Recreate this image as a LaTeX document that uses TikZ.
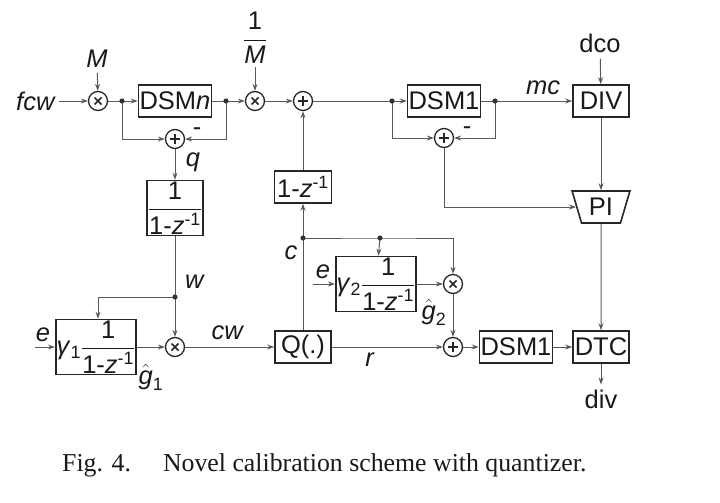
\documentclass[tikz,border=0pt]{standalone}
\usepackage{amsmath}
\usepackage{fontspec}
\setmainfont{Liberation Sans}
\newfontfamily\capfont{Liberation Serif}
\usepackage{tikz}
\usetikzlibrary{shapes.geometric, arrows.meta, positioning, calc}
\tikzset{
  block/.style  = {rectangle, draw=black!85, line width=1.6pt, inner sep=1pt,
                   text centered, minimum height=32pt},
  piblock/.style = {trapezium, draw=black!85, line width=1.6pt, inner sep=1pt,
                   shape border rotate=180, trapezium stretches=true,
                   trapezium angle=72, minimum width=58pt, minimum height=32pt},
  mixer/.style  = {circle, draw=black!85, line width=1.3pt, minimum size=19pt, inner sep=0pt,
                   path picture={\draw[line width=1.5pt]
                     ([shift={(-3.5pt,-3.5pt)}]path picture bounding box.center) --
                     ([shift={(3.5pt,3.5pt)}]path picture bounding box.center)
                     ([shift={(-3.5pt,3.5pt)}]path picture bounding box.center) --
                     ([shift={(3.5pt,-3.5pt)}]path picture bounding box.center);}},
  adder/.style  = {circle, draw=black!85, line width=1.3pt, minimum size=19pt, inner sep=0pt,
                   path picture={\draw[line width=1.5pt]
                     ([xshift=-5pt]path picture bounding box.center) --
                     ([xshift=5pt]path picture bounding box.center)
                     ([yshift=-5pt]path picture bounding box.center) --
                     ([yshift=5pt]path picture bounding box.center);}},
  sig/.style    = {line width=1pt, draw=black!65},
  arrow/.style  = {sig, -{Stealth[length=7pt,width=5pt]}},
  lbl/.style    = {inner sep=3pt},
}

\begin{document}
\begin{tikzpicture}[x=1pt, y=-1pt, every node/.style={font=\fontsize{25.5}{29}\selectfont, text=black!90}]
    \useasboundingbox (0,0) rectangle (720,503);

    %% Top row
    \node[lbl] (fcw) at (36,101) {\textit{fcw}};
    \node[mixer] (mulA) at (98,101) {};
    \node[lbl, inner sep=5pt] (M) at (97,59) {\textit{M}};
    \coordinate (dotA) at (122,101);
    \node[block, minimum width=73pt] (dsmn) at (175,101) {DSM\textit{n}};
    \coordinate (dotB) at (226,101);
    \node[mixer] (mulB) at (255,101) {};
    \node[lbl, inner sep=3pt] (invM) at (255,38) {$\dfrac{\text{1}}{\text{\textit{M}}}$};
    \node[adder] (addA) at (303,101) {};
    \coordinate (dotC) at (392,101);
    \node[block, minimum width=72pt] (dsmA) at (444,101) {DSM1};
    \coordinate (dotD) at (495,101);
    \node[lbl] (mc) at (543,88) {\textit{mc}};
    \node[block, minimum width=56pt] (divb) at (601,101) {DIV};
    \node[lbl, inner sep=6pt] (dco) at (600,43) {dco};

    %% Feedback adders
    \node[adder] (subA) at (175,139) {};
    \node[lbl] (minA) at (197,132) {-};
    \node[lbl] (q) at (193,162) {\textit{q}};
    \node[adder] (subB) at (444,138) {};
    \node[lbl] (minB) at (467,131) {-};

    %% Integrator, differentiator, PI
    \node[block, minimum width=55pt, minimum height=51pt] (intA) at (175,208)
         {$\dfrac{\text{1}}{\text{1-\textit{z}\textsuperscript{-1}}}$};
    \node[block, minimum width=57pt] (diffA) at (303,187) {1-\textit{z}\textsuperscript{-1}};
    \node[piblock] (pi) at (601,207) {PI};

    %% Calibration loops
    \coordinate (dotG) at (175,297);
    \node[lbl] (w) at (195,282) {\textit{w}};
    \node[block, minimum width=73pt, minimum height=52pt] (gamA) at (96,347)
         {\textit{γ}\textsubscript{1}$\dfrac{\text{1}}{\text{1-\textit{z}\textsuperscript{-1}}}$};
    \coordinate (eA) at (35,347);
    \node[lbl] (eAl) at (43,335) {\textit{e}};
    \node[mixer] (mulC) at (175,347) {};
    \node[inner sep=0pt] (gA) at (151,377) {$\hat{\text{\textit{g}}}_{\text{1}}$};
    \node[lbl] (cw) at (228,333) {\textit{cw}};
    \node[block, minimum width=56pt] (Q) at (303,347) {Q(.)};
    \coordinate (dotE) at (303,238);
    \coordinate (dotF) at (380,238);
    \node[lbl] (c) at (291,253) {\textit{c}};
    \node[block, minimum width=73pt, minimum height=50pt] (gamB) at (376,284)
         {\textit{γ}\textsubscript{2}$\dfrac{\text{1}}{\text{1-\textit{z}\textsuperscript{-1}}}$};
    \coordinate (eB) at (313,284);
    \node[lbl] (eBl) at (323,272) {\textit{e}};
    \node[mixer] (mulD) at (453,284) {};
    \node[inner sep=0pt] (gB) at (434,312) {$\hat{\text{\textit{g}}}_{\text{2}}$};
    \node[adder] (addB) at (453,347) {};
    \node[lbl] (r) at (370,360) {\textit{r}};
    \node[block, minimum width=73pt] (dsmB) at (516,347) {DSM1};
    \node[block, minimum width=56pt] (dtc) at (601,347) {DTC};
    \node[lbl, inner sep=5pt] (divo) at (601,399) {div};

    %% Top row signals
    \draw[arrow] (fcw) -- (mulA);
    \draw[arrow] (M) -- (mulA);
    \draw[arrow] (mulA) -- (dsmn);
    \draw[arrow] (dsmn) -- (mulB);
    \draw[arrow] (invM) -- (mulB);
    \draw[arrow] (mulB) -- (addA);
    \draw[arrow] (addA) -- (dsmA);
    \draw[arrow] (dsmA) -- (divb);
    \draw[arrow] (dco) -- (divb);
    \draw[arrow] (dotA) |- (subA);
    \draw[arrow] (dotB) |- (subA);
    \draw[arrow] (subA) -- (intA);
    \draw[arrow] (dotC) |- (subB);
    \draw[arrow] (dotD) |- (subB);
    \draw[arrow] (subB) |- (pi);
    \draw[arrow] (divb) -- (pi);
    \draw[arrow] (pi) -- (dtc);

    %% Lower signals
    \draw[arrow] (intA) -- (mulC);
    \draw[arrow] (dotG) -| ([xshift=2pt]gamA.north);
    \draw[arrow] (eA) -- (gamA);
    \draw[arrow] (gamA) -- (mulC);
    \draw[arrow] (mulC) -- (Q);
    \draw[arrow] (Q) -- (diffA);
    \draw[arrow] (diffA) -- (addA);
    \draw[arrow] (dotE) -- (dotF) -| (mulD);
    \draw[arrow] (dotF) -- (gamB);
    \draw[arrow] (eB) -- (gamB);
    \draw[arrow] (gamB) -- (mulD);
    \draw[arrow] (mulD) -- (addB);
    \draw[arrow] (Q) -- (addB);
    \draw[arrow] (addB) -- (dsmB);
    \draw[arrow] (dsmB) -- (dtc);
    \draw[arrow] (dtc) -- (divo);

    \foreach \d in {dotA,dotB,dotC,dotD,dotE,dotF,dotG}
      \fill[black!80] (\d) circle (2.6pt);

    %% Caption
    \node[anchor=west, inner sep=0pt, font=\capfont\fontsize{25.8}{30}\selectfont] (cap) at (62,465)
         {Fig. 4.\hspace{32pt}Novel calibration scheme with quantizer.};
\end{tikzpicture}
\end{document}
